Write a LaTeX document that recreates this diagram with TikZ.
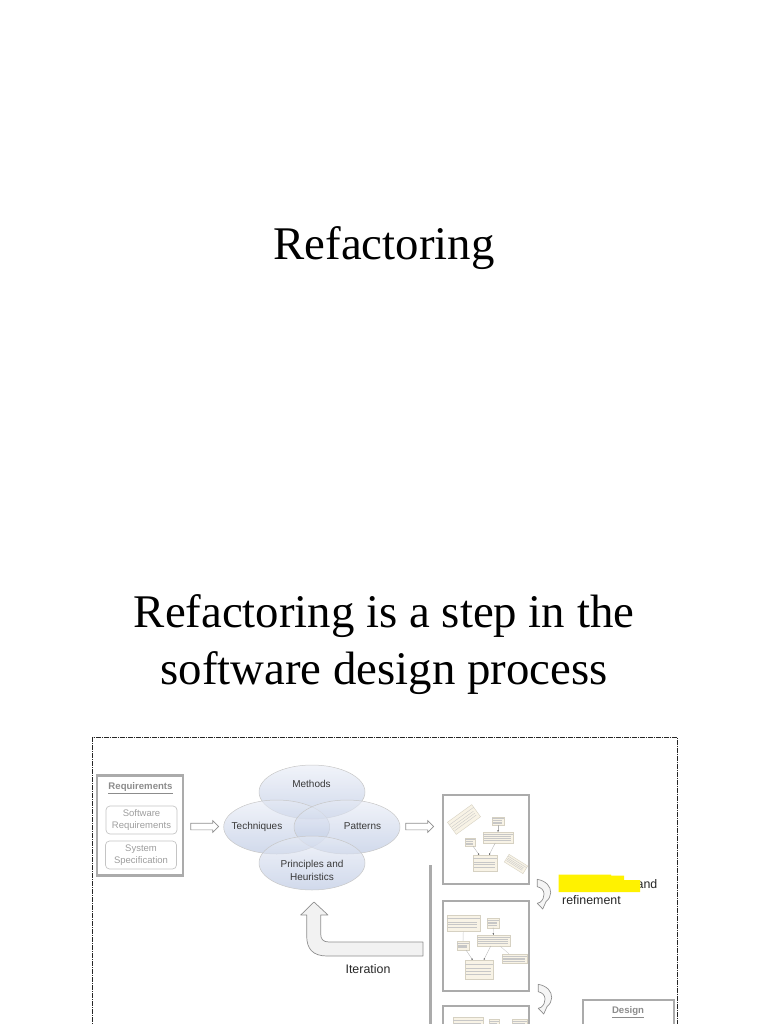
\documentclass[tikz,border=0pt]{standalone}
\usepackage{fontspec}
\setmainfont{Liberation Serif}
\newfontfamily\labelfont{Liberation Sans}
\usetikzlibrary{arrows.meta,shapes.arrows}
\usetikzlibrary{calc}
\definecolor{boxgrey}{HTML}{ABABAB}
\definecolor{softgrey}{HTML}{8C8C8C}
\definecolor{umlfill}{HTML}{F8F3E6}
\definecolor{umledge}{HTML}{D6D1C2}
\definecolor{venntop}{HTML}{E8ECF6}
\definecolor{vennlow}{HTML}{B4C2DF}
\definecolor{arrowgrey}{HTML}{8F8F8F}
\def\VennRx{53}
\def\VennRy{27}
\def\VennTop{792}
\def\VennMid{827}
\def\VennLow{863}
\tikzset{
  titletext/.style={font=\fontsize{46.8}{57}\selectfont, align=center},
  venntext/.style={font=\labelfont\fontsize{10}{13}\selectfont, align=center, text=black!78},
  plaintext/.style={font=\labelfont\fontsize{12.4}{15}\selectfont, text=black!85},
  headtext/.style={font=\labelfont\bfseries\fontsize{9.6}{11}\selectfont, text=softgrey},
  greytext/.style={font=\labelfont\fontsize{9.5}{12}\selectfont, align=center, text=softgrey!85},
  greybox/.style={draw=boxgrey, line width=2.6pt},
  softbox/.style={draw=boxgrey!70, rounded corners=4pt, line width=0.7pt, minimum width=71, minimum height=28, inner sep=0},
  vennpart/.style={top color=venntop, bottom color=vennlow, draw=black!22, line width=0.5pt, fill opacity=0.62},
  blockarrow/.style={single arrow, draw=arrowgrey, fill=white, line width=0.7pt, minimum height=28, minimum width=11,
    single arrow head extend=2.5pt, single arrow head indent=0pt, inner xsep=0, inner ysep=3pt},
  bendshape/.style={draw=arrowgrey, fill=black!4, line width=0.7pt, line join=round},
  umlbox/.style={draw=umledge, fill=umlfill, line width=0.4pt, inner sep=0, outer sep=0},
  umlrow/.style={black!22, line width=0.35pt},
  umlline/.style={black!30, line width=0.35pt, -{Latex[length=1.6pt,width=1.6pt,black!70]}},
}
\begin{document}
\begin{tikzpicture}[x=1pt,y=-1pt]
\useasboundingbox (0,0) rectangle (768,1024);
\clip (0,0) rectangle (768,1024);

\node[titletext] (title) at (384,248) {Refactoring};
\node[titletext] (heading) at (384,644.5) {Refactoring is a step in the\\software design process};

% outer frame of the figure
\draw[black!85, line width=0.8pt, dash pattern=on 5pt off 1pt on 1pt off 1pt] (92.5,1030) -- (92.5,737) -- (677,737) -- (677,1030);

% requirements
\node[greybox, minimum width=86, minimum height=100, inner sep=0] (reqbox) at (140,825.7) {};
\node[headtext] (reqhead) at (140.5,788.5) {\underline{Requirements}};
\node[softbox, greytext] (softreq) at (141.5,820) {Software\\Requirements};
\node[softbox, greytext] (syspec) at (141,855) {System\\Specification};
\node[blockarrow] (arrowin) at (203,826.5) {};

% overlapping ellipses
\path[vennpart] (312,\VennTop) ellipse ({\VennRx} and {\VennRy});
\path[vennpart] (276.7,\VennMid) ellipse ({\VennRx} and {\VennRy});
\path[vennpart] (347,\VennMid) ellipse ({\VennRx} and {\VennRy});
\path[vennpart] (312,\VennLow) ellipse ({\VennRx} and {\VennRy});
\node[venntext] (methods) at (311.5,783.5) {Methods};
\node[venntext] (techniques) at (257,826.5) {Techniques};
\node[venntext] (patterns) at (362.5,826.5) {Patterns};
\node[venntext] (principles) at (312,870.5) {Principles and\\Heuristics};
\node[blockarrow] (arrowout) at (418,826.5) {};

% iteration arrow
\draw[bendshape, fill=black!5] (314,902) -- (328,915) -- (320.7,915) -- (320.7,934)
  .. controls (320.7,939) and (323,942) .. (329,942) -- (423,942) -- (423,956) -- (327,956)
  .. controls (313,956) and (306.7,949) .. (306.7,936) -- (306.7,915) -- (300.7,915) -- cycle;
\node[plaintext] (iteration) at (368,969.5) {Iteration};
\draw[boxgrey, line width=2.6pt] (430.7,865) -- (430.7,1030);

% first class diagram
\node[greybox, minimum width=86, minimum height=89, inner sep=0] (diagA) at (486,839.5) {};
\node[umlbox, minimum width=30, minimum height=15, rotate=36] (aNote) at (464,819.5) {};
\node[umlbox, minimum width=12, minimum height=8.5] (aTop) at (498,821) {};
\node[umlbox, minimum width=30, minimum height=11] (aMid) at (498,837.5) {};
\node[umlbox, minimum width=10, minimum height=8.5] (aLeft) at (470,842) {};
\node[umlbox, minimum width=24, minimum height=16] (aBase) at (485,863) {};
\node[umlbox, minimum width=22, minimum height=9, rotate=-32] (aSide) at (516,864) {};
\draw[umlline] (aTop) -- (aMid);
\draw[umlline] (aLeft) -- (aBase);
\draw[umlline] (aMid) -- (aBase);

% second class diagram
\node[greybox, minimum width=86, minimum height=90, inner sep=0] (diagB) at (486,946) {};
\node[umlbox, minimum width=33, minimum height=16.5] (bNote) at (463.3,923) {};
\node[umlbox, minimum width=12, minimum height=10] (bTop) at (493,922.7) {};
\node[umlbox, minimum width=12, minimum height=9] (bLeft) at (463,945.5) {};
\node[umlbox, minimum width=33, minimum height=11] (bMid) at (493.5,940.5) {};
\node[umlbox, minimum width=28, minimum height=19] (bBase) at (479,969.5) {};
\node[umlbox, minimum width=25, minimum height=9.5] (bSide) at (514.5,958.5) {};
\draw[umlline] (bTop) -- (bMid);
\draw[umlrow] (bNote) -- (bLeft);
\draw[umlline] (bLeft) -- (bBase);
\draw[umlline] (bMid) -- (bBase);
\draw[umlrow] (bMid) -- (bSide);

% third class diagram
\node[greybox, minimum width=86, minimum height=60, inner sep=0] (diagC) at (486,1036) {};
\node[umlbox, minimum width=30, minimum height=14] (cNote) at (468,1024) {};
\node[umlbox, minimum width=10, minimum height=10] (cTop) at (494,1024) {};
\node[umlbox, minimum width=15, minimum height=9] (cSide) at (519.5,1024) {};

% rows inside the classes
\foreach \n in {aNote,aTop,aMid,aLeft,aBase,aSide,bNote,bTop,bLeft,bMid,bBase,bSide,cNote,cTop,cSide} {
  \draw[umlrow] ($(\n.north west)!0.22!(\n.south west)$) -- ($(\n.north east)!0.22!(\n.south east)$);
  \foreach \k in {0.42,0.58,0.74}
    \draw[umlrow, shorten <=1pt, shorten >=2.5pt] ($(\n.north west)!\k!(\n.south west)$) -- ($(\n.north east)!\k!(\n.south east)$);
}

% bent arrows
\foreach \dx/\dy in {0/0, 1/105}
  \draw[bendshape, shift={(\dx,\dy)}] (537.3,879.3) .. controls (546,881) and (550.7,886) .. (550.7,892.7)
    .. controls (550.7,896) and (549,899) .. (546,901.7) -- (542.7,909) -- (537.3,903.3) -- (540,902.3)
    .. controls (543,900) and (544,897) .. (544,894) .. controls (544,890) and (541,887.5) .. (537.3,886.7) -- cycle;

% refinement label
\node[plaintext, anchor=base west, inner sep=0] (andword) at (636.5,888) {and};
\fill[yellow] (558.7,874.5) -- (611,874.5) -- (611,875.5) -- (624,875.5) -- (624,880) -- (640,880) -- (640,892) -- (558.7,892) -- cycle;
\node[plaintext, anchor=base west, inner sep=0] (refine) at (562,904) {refinement};

% design
\node[greybox, minimum width=91, minimum height=60, inner sep=0] (design) at (628.5,1030) {};
\node[headtext] (designhead) at (628,1012) {\underline{Design}};
\end{tikzpicture}
\end{document}
